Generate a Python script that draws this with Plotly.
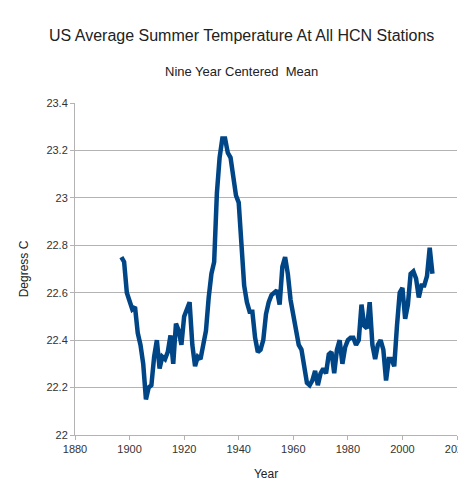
import plotly.graph_objects as go

years = list(range(1897, 2012))
temps = [22.75,22.73,22.60,22.56,22.53,22.54,22.43,22.38,22.30,22.15,22.20,22.21,22.33,22.40,22.28,22.33,22.32,22.35,22.42,22.30,
22.47,22.44,22.38,22.50,22.53,22.56,22.38,22.29,22.33,22.32,22.38,22.44,22.58,22.68,22.73,23.02,23.17,23.25,23.25,23.19,
23.17,23.08,23.01,22.98,22.76,22.63,22.56,22.52,22.52,22.41,22.35,22.36,22.40,22.51,22.56,22.59,22.60,22.61,22.55,22.71,
22.75,22.68,22.57,22.51,22.46,22.38,22.36,22.30,22.22,22.21,22.23,22.27,22.21,22.26,22.28,22.26,22.34,22.35,22.26,22.36,
22.40,22.30,22.37,22.40,22.41,22.41,22.38,22.40,22.55,22.46,22.45,22.56,22.38,22.32,22.38,22.40,22.36,22.23,22.32,22.32,
22.29,22.46,22.60,22.62,22.49,22.55,22.68,22.69,22.66,22.58,22.63,22.63,22.67,22.79,22.68]
x_ticks = [1880,1900,1920,1940,1960,1980,2000,2020]
y_ticks = [22,22.2,22.4,22.6,22.8,23,23.2,23.4]
y_labels = ["22","22.2","22.4","22.6","22.8","23","23.2","23.4"]

fig = go.Figure(go.Scatter(x=years, y=temps, mode="lines",
    line=dict(color="#004586", width=4.5)))
fig.update_layout(
    width=466, height=486, margin=dict(l=67, r=17, t=95, b=59),
    paper_bgcolor="white", plot_bgcolor="white", showlegend=False,
    font=dict(family="Liberation Sans, Arial", size=11, color="#333"),
    annotations=[
        dict(text="US Average Summer Temperature At All HCN Stations", x=0.4346, y=1, yshift=78,
             xref="paper", yref="paper", showarrow=False, font=dict(size=16, color="#222")),
        dict(text="Nine Year Centered  Mean", x=0.4346, y=1, yshift=41, xref="paper", yref="paper",
             showarrow=False, font=dict(size=13, color="#222")),
    ],
)
fig.update_xaxes(range=[1880, 2020], tickvals=x_ticks, showgrid=False, showline=True, linecolor="#b3b3b3",
    ticks="outside", tickcolor="#b3b3b3", ticklen=4, zeroline=False, automargin=False,
    title=dict(text="Year", font=dict(size=12, color="#222")))
fig.update_yaxes(range=[22, 23.4], tickvals=y_ticks, ticktext=y_labels, showgrid=True, gridcolor="#b3b3b3",
    showline=True, linecolor="#b3b3b3", ticks="outside", tickcolor="#b3b3b3", ticklen=4, zeroline=False,
    automargin=False, title=dict(text="Degress C", font=dict(size=12, color="#222")))
fig.write_html("out.html")
